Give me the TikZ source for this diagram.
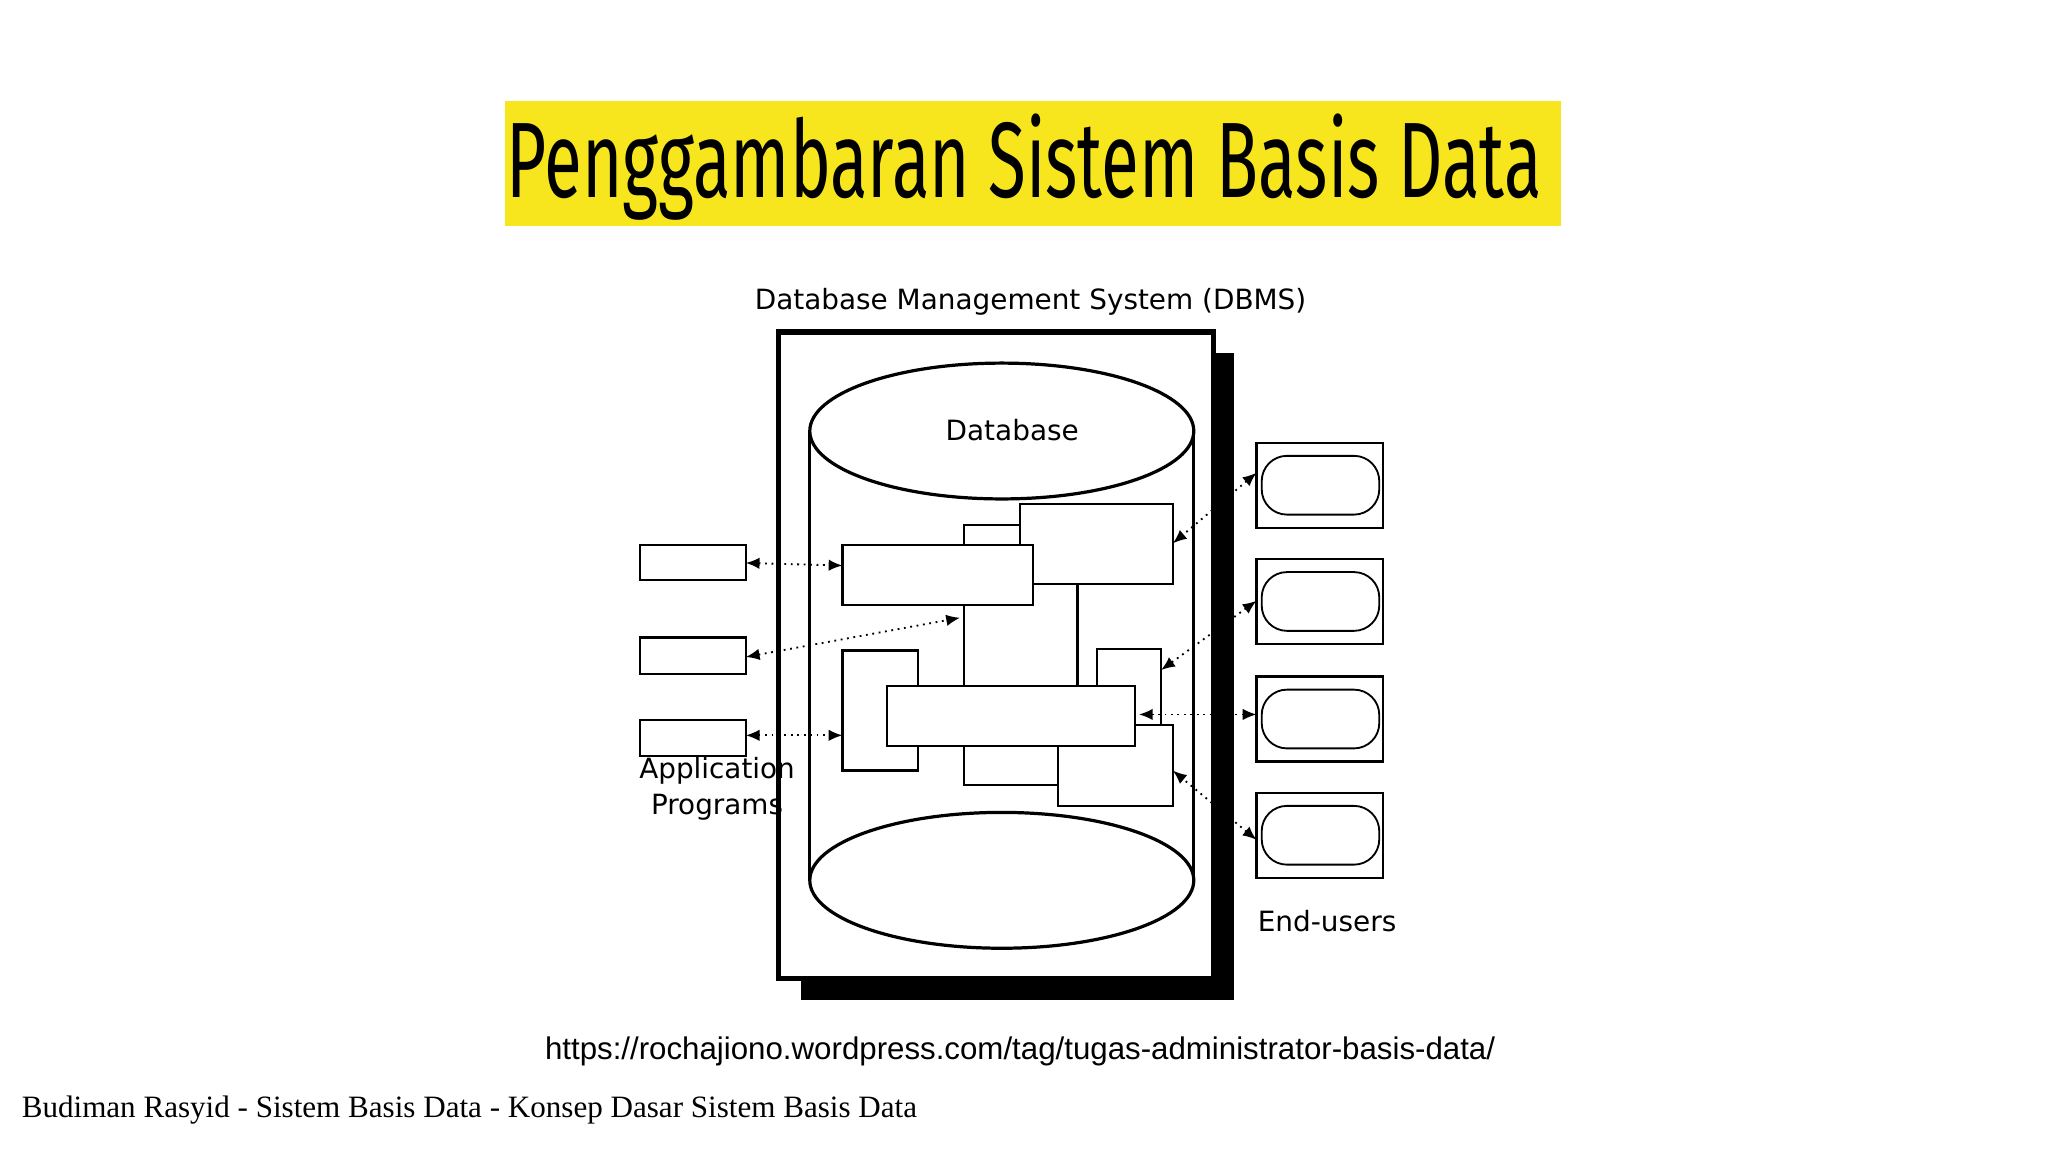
\documentclass[tikz,border=0pt]{standalone}
\usepackage{fontspec}
\setmainfont{Liberation Serif}
\newfontfamily\djv{DejaVu Sans}
\newfontfamily\lsans{Liberation Sans}
\newfontfamily\fira{Fira Sans}
\usetikzlibrary{arrows.meta}
\definecolor{titley}{HTML}{F7E51E}
\tikzset{
 box/.style={draw,line width=0.5pt,fill=white},
 conn/.style={densely dotted,line width=0.4pt,{Latex[length=3pt,width=2.5pt]}-{Latex[length=3pt,width=2.5pt]}},
 lbl/.style={inner sep=0pt,anchor=center}
}
\begin{document}
\begin{tikzpicture}[x=0.01cm,y=-0.01cm]
\useasboundingbox (0,0) rectangle (1568,882);
\fill[white] (0,0) rectangle (1568,882);
% title
\fill[titley] (387,77) rectangle (1195,173);
\node[lbl] (title) at (784,128) {\resizebox{7.92cm}{0.64cm}{\fira Penggambaran Sistem Basis Data}};
\node[lbl] (dbmslbl) at (789,231) {\resizebox{4.22cm}{!}{\djv Database Management System (DBMS)}};
% dbms box
\fill[black] (613,270) rectangle (945,766);
\draw[box,line width=1.2pt] (596,254) rectangle (929,749);
% cylinder
\draw[line width=0.7pt] (620,330) -- (620,674) (914,330) -- (914,674);
\draw[line width=0.7pt] (767,330) ellipse[x radius=147,y radius=52];
\draw[line width=0.7pt] (767,674) ellipse[x radius=147,y radius=52];
\node[lbl] (dbl) at (775,329) {\resizebox{1.02cm}{!}{\djv Database}};
% inner
\draw[box] (738,402) rectangle (825,601);
\draw[box] (781,386) rectangle (898,447);
\draw[box] (645,417) rectangle (791,463);
\node[coordinate] (Ain) at (735,473) {};
\draw[box] (645,498) rectangle (703,590);
\draw[box] (840,497) rectangle (889,563);
\draw[box] (810,555) rectangle (898,617);
\draw[box] (679,525) rectangle (869,571);
% app boxes
\draw[box] (490,417) rectangle (571,444);
\draw[box] (490,488) rectangle (571,516);
\draw[box] (490,551) rectangle (571,579);
\node[lbl,align=center] (apl) at (549,605) {\resizebox{1.19cm}{!}{\djv\begin{tabular}{@{}c@{}}Application\\[1pt]Programs\end{tabular}}};
% end-users
\foreach \y in {339,428,518,607}{
 \draw[box] (962,\y) rectangle (1059,\y+65);
 \draw[line width=0.4pt,rounded corners=5.5pt] (966,\y+10) rectangle (1056,\y+55);
}
\node[lbl] (eul) at (1016,705) {\resizebox{1.06cm}{!}{\djv End-users}};
% connectors
\node[coordinate] (a1) at (571,431) {};
\node[coordinate] (a1t) at (645,433) {};
\node[coordinate] (a2) at (571,503) {};
\node[coordinate] (a3) at (571,563) {};
\node[coordinate] (a3t) at (645,563) {};
\node[coordinate] (e1) at (962,362) {};
\node[coordinate] (e1t) at (898,416) {};
\node[coordinate] (e2) at (962,460) {};
\node[coordinate] (e2t) at (889,513) {};
\node[coordinate] (e3) at (962,547) {};
\node[coordinate] (e3t) at (872,547) {};
\node[coordinate] (e4) at (962,643) {};
\node[coordinate] (e4t) at (898,590) {};
\draw[conn] (a1) -- (a1t);
\draw[conn] (a2) -- (Ain);
\draw[conn] (a3) -- (a3t);
\draw[conn] (e1) -- (e1t);
\draw[conn] (e2) -- (e2t);
\draw[conn] (e3) -- (e3t);
\draw[conn] (e4) -- (e4t);
% texts
\node[lbl] (url) at (781,805) {\resizebox{7.27cm}{!}{\lsans https://rochajiono.wordpress.com/tag/tugas-administrator-basis-data/}};
\node[lbl,anchor=west] (foot) at (16,850) {\resizebox{6.85cm}{!}{Budiman Rasyid - Sistem Basis Data - Konsep Dasar Sistem Basis Data}};
\end{tikzpicture}
\end{document}
